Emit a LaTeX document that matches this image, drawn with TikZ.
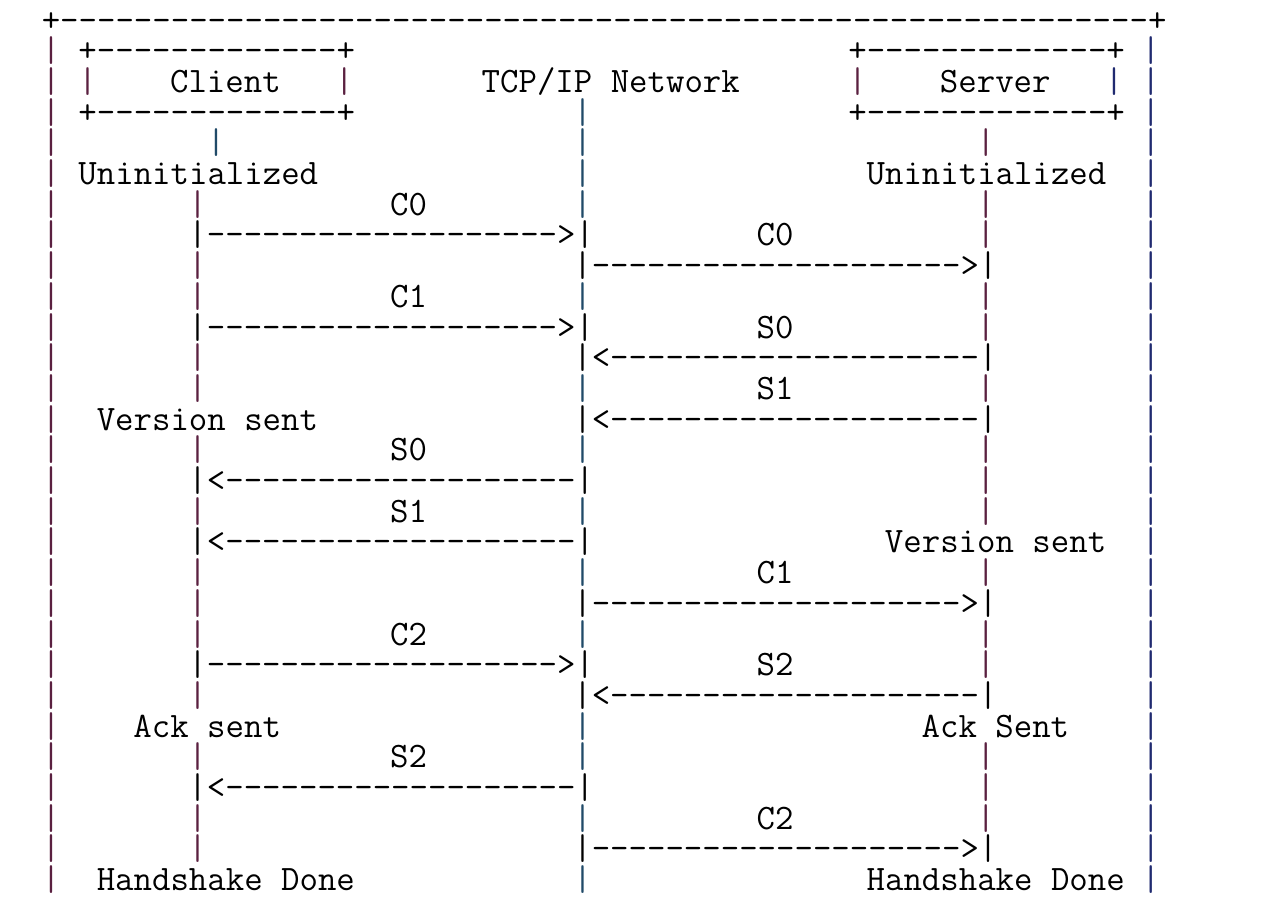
\documentclass[tikz,border=0pt]{standalone}
\usepackage{fontspec}
\definecolor{lp}{HTML}{5A2040}
\definecolor{np}{HTML}{204A68}
\definecolor{rp}{HTML}{202A70}
\begin{document}
\begin{tikzpicture}[x=1pt,y=1pt,
  txt/.style={anchor=base west,inner sep=0pt,outer sep=0pt,font=\ttfamily\fontsize{35.8}{35.8}\selectfont}]
\useasboundingbox (0,0) rectangle (1267,-922);
\fill[white] (0,0) rectangle (1267,-922);
\newcommand\putat[4][black]{\node[txt,text=#1] (t#3-#2) at ({41.8+18.33*#2},{-(31+30.7*#3)}) {#4};}
% outer box
\putat{0}{0}{+-----------------------------------------------------------+}
\foreach \r in {1,...,28}{\putat[lp]{0}{\r}{|}\putat[rp]{60}{\r}{|}}
% boxes
\putat{2}{1}{+-------------+}
\putat{2}{3}{+-------------+}
\putat[lp]{2}{2}{|}\putat{7}{2}{Client}\putat[lp]{16}{2}{|}
\putat{24}{2}{TCP/IP Network}
\putat{44}{1}{+-------------+}
\putat{44}{3}{+-------------+}
\putat[lp]{44}{2}{|}\putat{49}{2}{Server}\putat[rp]{58}{2}{|}
% lifelines
\putat[np]{9}{4}{|}
\foreach \r in {6,8,9,11,12,14,16,18,19,20,22,24,26,27}{\putat[lp]{8}{\r}{|}}
\foreach \r in {3,4,5,6,9,12,14,16,18,20,23,24,26,28}{\putat[np]{29}{\r}{|}}
\foreach \r in {4,6,7,9,10,12,14,15,16,18,20,21,24,25,26}{\putat[lp]{51}{\r}{|}}
% states
\putat{2}{5}{Uninitialized}\putat{45}{5}{Uninitialized}
\putat{3}{13}{Version sent}\putat{46}{17}{Version sent}
\putat{5}{23}{Ack sent}\putat{48}{23}{Ack Sent}
\putat{3}{28}{Handshake Done}\putat{45}{28}{Handshake Done}
% arrows
\foreach \r in {7,10,21}{\putat{8}{\r}{|------------------->|}}
\foreach \r in {15,17,25}{\putat{8}{\r}{|<-------------------|}}
\foreach \r in {8,19,27}{\putat{29}{\r}{|-------------------->|}}
\foreach \r in {11,13,22}{\putat{29}{\r}{|<--------------------|}}
% labels
\putat{19}{6}{C0}\putat{19}{9}{C1}\putat{19}{14}{S0}\putat{19}{16}{S1}\putat{19}{20}{C2}\putat{19}{24}{S2}
\putat{39}{7}{C0}\putat{39}{10}{S0}\putat{39}{12}{S1}\putat{39}{18}{C1}\putat{39}{21}{S2}\putat{39}{26}{C2}
\end{tikzpicture}
\end{document}
